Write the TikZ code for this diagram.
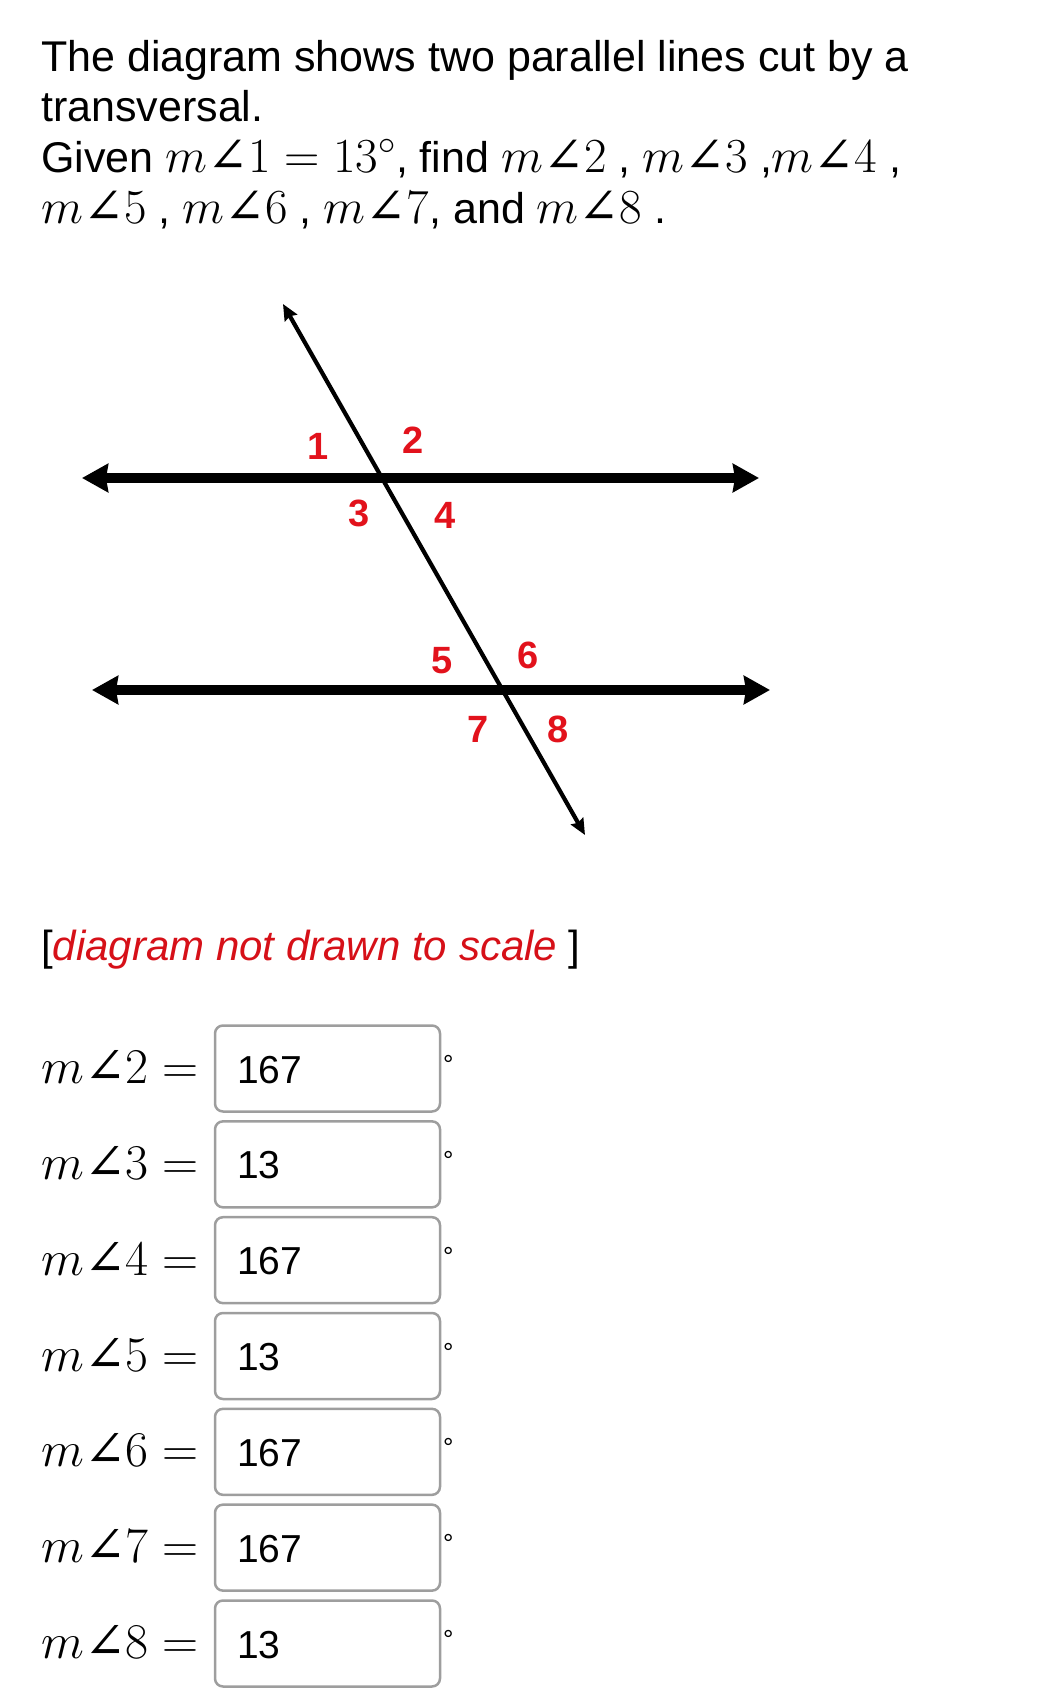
\RequirePackage{fix-cm}
\documentclass[tikz,border=0pt]{standalone}
\usepackage{fontspec}
\setmainfont{Liberation Sans}
\newfontfamily\angfont{DejaVu Serif}
\usetikzlibrary{arrows.meta,positioning,calc}

\definecolor{labred}{RGB}{226,18,28}
\definecolor{notered}{RGB}{214,16,24}
\definecolor{boxgray}{RGB}{158,158,158}

\newcommand{\ang}{\mathord{\hbox{\angfont ∠}}}
\newcommand{\mth}[1]{{\fontsize{49}{50}\selectfont$#1$}}

\tikzset{
    linearr/.style={line width=10.5pt, {Stealth[length=26pt,width=28pt,inset=2pt]}-{Stealth[length=26pt,width=28pt,inset=2pt]}},
    transarr/.style={line width=4.2pt, {Stealth[length=16pt,width=14pt,inset=2pt]}-{Stealth[length=16pt,width=14pt,inset=2pt]}},
    anglbl/.style={text=labred, inner sep=0pt, font=\fontsize{38}{38}\selectfont\bfseries},
    bodytxt/.style={anchor=base west, inner sep=0pt, font=\fontsize{43}{50}\selectfont},
    notetxt/.style={anchor=base west, inner sep=0pt, font=\fontsize{42}{50}\selectfont},
    anslbl/.style={anchor=base west, inner sep=0pt, font=\fontsize{50}{50}\selectfont},
    ansbox/.style={draw=boxgray, line width=2.5pt, rounded corners=8pt, minimum width=225pt, minimum height=86pt, inner sep=0pt},
    anstxt/.style={anchor=base west, inner sep=0pt, font=\fontsize{39}{39}\selectfont},
    degtxt/.style={anchor=base west, inner sep=0pt, font=\fontsize{26}{26}\selectfont}
}

\begin{document}
\begin{tikzpicture}[x=1pt,y=-1pt]
    \useasboundingbox (0,0) rectangle (1061,1705);

    % question text
    \node[bodytxt] (q1) at (41,71) {The diagram shows two parallel lines cut by a};
    \node[bodytxt] (q2) at (41,121) {transversal.};
    \node[bodytxt] (q3) at (41,172) {Given \mth{m\ang 1 = 13^{\circ}}, find \mth{m\ang 2} , \mth{m\ang 3} ,\mth{m\ang 4} ,};
    \node[bodytxt] (q4) at (41,223) {\mth{m\ang 5} , \mth{m\ang 6} , \mth{m\ang 7}, and \mth{m\ang 8} .};

    % the two parallel lines and the transversal
    \coordinate (a1) at (82,478);
    \coordinate (a2) at (759,478);
    \coordinate (b1) at (92,690);
    \coordinate (b2) at (770,690);
    \coordinate (t1) at (283,304);
    \coordinate (t2) at (585,835);
    \coordinate (p) at (382,478);
    \coordinate (q) at (502.5,690);

    \draw[linearr] (a1) -- (a2);
    \draw[linearr] (b1) -- (b2);
    \draw[transarr] (t1) -- (t2);

    \node[anglbl] (n1) at ([shift={(-64,-32)}]p) {1};
    \node[anglbl] (n2) at ([shift={(31,-38)}]p) {2};
    \node[anglbl] (n3) at ([shift={(-23,35)}]p) {3};
    \node[anglbl] (n4) at ([shift={(63,37)}]p) {4};
    \node[anglbl] (n5) at ([shift={(-60,-29)}]q) {5};
    \node[anglbl] (n6) at ([shift={(26,-35)}]q) {6};
    \node[anglbl] (n7) at ([shift={(-24,39)}]q) {7};
    \node[anglbl] (n8) at ([shift={(56,39)}]q) {8};

    \node[notetxt] (note) at (41,960) {[\textcolor{notered}{\itshape diagram not drawn to scale} ]};

    % answers
    \foreach \k/\v [count=\i from 0] in {2/167,3/13,4/167,5/13,6/167,7/167,8/13} {
        \pgfmathsetmacro\yy{1068.5+95.83*\i}
        \node[ansbox] (box\k) at (327.5,\yy) {};
        \node[anslbl] (lbl\k) at (41,\yy+15) {$m\ang \k =$};
        \node[anstxt] (val\k) at (237,\yy+14.5) {\v};
        \node[degtxt] (deg\k) at (443,\yy+5) {°};
    }
\end{tikzpicture}
\end{document}
